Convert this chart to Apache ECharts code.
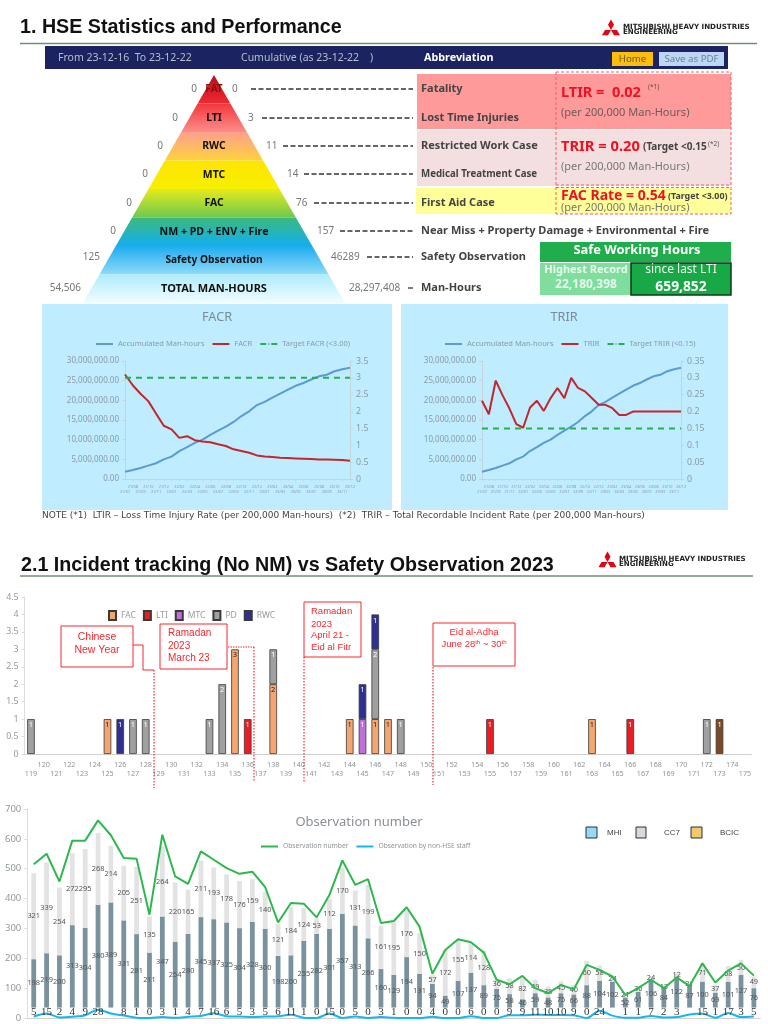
<!DOCTYPE html>
<html>
<head>
<meta charset="utf-8">
<title>HSE Statistics</title>
<script src="https://cdn.jsdelivr.net/npm/echarts@6/dist/echarts.min.js"></script>
<style>
html, body { margin: 0; padding: 0; background: #fff; }
#main { width: 768px; height: 1024px; }
</style>
</head>
<body>
<div id="main"></div>
<script>
// pyramid
var tierNames = ['FAT', 'LTI', 'RWC', 'MTC', 'FAC', 'NM + PD + ENV + Fire', 'Safety Observation', 'TOTAL MAN-HOURS'];
var tierWeek = ['0', '0', '0', '0', '0', '0', '125', '54,506'];
var tierCumulative = ['0', '3', '11', '14', '76', '157', '46289', '28,297,408'];
var tierMeaning = ['Fatality', 'Lost Time Injuries', 'Restricted Work Case', 'Medical Treatment Case', 'First Aid Case',
    'Near Miss + Property Damage + Environmental + Fire', 'Safety Observation', 'Man-Hours'];

// monthly trend
var months = ['21/07', '21/08', '21/09', '21/10', '21/11', '21/12', '22/01', '22/02', '22/03', '22/04',
    '22/05', '22/06', '22/07', '22/08', '22/09', '22/10', '22/11', '22/12', '23/01', '23/02',
    '23/03', '23/04', '23/05', '23/06', '23/07', '23/08', '23/09', '23/10', '23/11', '23/12'];
var manHours = [1860000, 2300000, 2800000, 3400000, 4000000, 5000000, 5700000, 7100000, 8100000, 9200000,
    10000000, 11200000, 12300000, 13300000, 14500000, 16000000, 17200000, 18800000, 19600000, 20700000,
    21700000, 22700000, 23700000, 24400000, 25300000, 26100000, 26500000, 27400000, 27900000, 28297408];
var facr = [3.1, 2.78, 2.53, 2.31, 1.94, 1.58, 1.47, 1.22, 1.27, 1.15,
    1.11, 1.09, 1.03, 0.98, 0.88, 0.83, 0.78, 0.7, 0.67, 0.65,
    0.63, 0.62, 0.61, 0.6, 0.59, 0.58, 0.58, 0.57, 0.56, 0.54];
var trir = [0.232, 0.192, 0.292, 0.248, 0.209, 0.163, 0.152, 0.212, 0.232, 0.202,
    0.24, 0.27, 0.24, 0.3, 0.27, 0.26, 0.24, 0.22, 0.22, 0.21,
    0.19, 0.19, 0.2, 0.2, 0.2, 0.2, 0.2, 0.2, 0.2, 0.2];
var facrTarget = months.map(function () { return 3; });
var trirTarget = months.map(function () { return 0.15; });

// weekly incidents, weeks 119..175
var weeks = [];
for (var w = 119; w <= 175; w++) weeks.push(String(w));
var incFAC = { 125: 1, 135: 3, 138: 2, 144: 1, 146: 1, 147: 1, 163: 1 };
var incLTI = { 136: 1, 155: 1, 166: 1 };
var incMTC = { 145: 1 };
var incPD = { 119: 1, 127: 1, 128: 1, 133: 1, 134: 2, 138: 1, 146: 2, 148: 1, 172: 1 };
var incRWC = { 126: 1, 145: 1, 146: 1 };
var incOther = { 173: 1 };

// observations, weeks 119..175
var mhiTops = [197, 217, 210, 311, 302, 379, 387, 327, 281, 219, 340, 256, 282, 338, 331, 320, 301, 322, 298,
    208, 210, 258, 282, 298, 349, 310, 267, 164, 144, 204, 148, 114, 75, 125, 152, 110, 98, 80,
    63, 83, 69, 83, 79, 110, 125, 122, 69, 88, 128, 100, 139, 111, 122, 85, 122, 144, 100];
var mhiLabels = [198, 219, 200, 313, 304, 380, 389, 331, 281, 211, 347, 254, 280, 345, 337, 325, 304, 328, 300,
    198, 200, 255, 282, 301, 357, 313, 266, 160, 129, 194, 131, 94, 49, 107, 137, 89, 75, 58,
    46, 59, 48, 75, 66, 88, 104, 102, 52, 61, 106, 84, 122, 87, 100, 69, 101, 127, 76];
var cc7Tops = [485, 521, 437, 552, 566, 620, 577, 510, 506, 340, 575, 454, 430, 527, 504, 481, 459, 465, 423,
    315, 371, 368, 334, 398, 502, 427, 446, 309, 323, 362, 284, 144, 228, 262, 250, 226, 130, 133,
    133, 128, 105, 122, 111, 191, 176, 141, 83, 107, 139, 111, 150, 116, 183, 111, 174, 195, 139];
var cc7Labels = [321, 339, 254, 272, 295, 268, 214, 205, 251, 135, 264, 220, 165, 211, 193, 178, 176, 159, 140,
    121, 184, 124, 53, 112, 170, 131, 199, 161, 195, 176, 150, 57, 172, 155, 114, 128, 36, 58,
    82, 49, 38, 45, 40, 60, 58, 24, 21, 36, 24, 13, 12, 21, 71, 37, 68, 50, 49];
var obsNumber = [515, 550, 457, 594, 594, 662, 612, 536, 533, 346, 614, 474, 449, 558, 530, 502, 483, 490, 438,
    320, 385, 383, 337, 413, 528, 446, 465, 318, 325, 371, 306, 148, 228, 264, 254, 219, 128, 113,
    141, 100, 83, 111, 96, 178, 161, 139, 77, 100, 128, 100, 136, 107, 183, 119, 159, 183, 142];
var obsNonHse = [5, 15, 2, 4, 9, 28, 15, 8, 1, 0, 3, 1, 4, 7, 16, 6, 5, 3, 5,
    6, 11, 1, 0, 15, 0, 5, 0, 3, 1, 0, 0, 4, 0, 0, 6, 0, 0, 9,
    9, 11, 10, 10, 9, 0, 24, 8, 1, 1, 7, 2, 3, 12, 15, 1, 17, 3, 5];
var obsNonHseLabels = obsNonHse.map(function (v, i) { return (i === 6 || i === 45 || i === 51) ? '' : String(v); });

// the bars float above a clear strip that holds the non-HSE counts
var BAR_FLOOR = 35;
var barFloor = weeks.map(function () { return BAR_FLOOR; });
var mhiVisible = mhiTops.map(function (v) { return Math.max(v - BAR_FLOOR, 0); });
var cc7Visible = cc7Tops.map(function (v, i) { return Math.max(v - mhiTops[i], 0); });

var UI_FONT = '"Noto Sans", sans-serif';
var ARIAL = '"Liberation Sans", Arial, sans-serif';

function text(x, y, str, size, color, weight, align, font) {
    return {
        type: 'text', z: 10, silent: true,
        style: {
            x: x, y: y, text: str, fontSize: size, fill: color, fontWeight: weight || 'normal',
            align: align || 'left', verticalAlign: 'middle', fontFamily: font || UI_FONT
        }
    };
}
function box(x, y, w, h, fill, stroke, z, lineWidth) {
    return {
        type: 'rect', z: z === undefined ? 1 : z, silent: true, shape: { x: x, y: y, width: w, height: h },
        style: { fill: fill || 'transparent', stroke: stroke || null, lineWidth: lineWidth || 1 }
    };
}
function line(points, color, width, dash, z) {
    return {
        type: 'polyline', z: z || 3, silent: true, shape: { points: points },
        style: { fill: null, stroke: color, lineWidth: width, lineDash: dash || null }
    };
}
function logo(cx, cy, textX) {
    var L = 6, out = [];
    [[-60, -120], [180, 120], [0, 60]].forEach(function (d) {
        var a = d[0] * Math.PI / 180, b = d[1] * Math.PI / 180;
        var ax = L * Math.cos(a), ay = L * Math.sin(a), bx = L * Math.cos(b), by = L * Math.sin(b);
        out.push({
            type: 'polygon', z: 5, silent: true,
            shape: { points: [[cx, cy], [cx + ax, cy + ay], [cx + ax + bx, cy + ay + by], [cx + bx, cy + by]] },
            style: { fill: '#e60012' }
        });
    });
    out.push(text(textX, cy - 3.3, 'MITSUBISHI HEAVY INDUSTRIES', 7.1, '#222', 'bold', 'left', '"DejaVu Sans", sans-serif'));
    out.push(text(textX, cy + 1.8, 'ENGINEERING', 7.1, '#222', 'bold', 'left', '"DejaVu Sans", sans-serif'));
    return out;
}

var graphicEls = [];
function add(list) { graphicEls = graphicEls.concat(list); }

// page titles
add([
    text(20, 28, '1. HSE Statistics and Performance', 19.7, '#111', 'bold', 'left', ARIAL),
    line([[20, 43.5], [757, 43.5]], '#6f9074', 1.5),
    text(21, 566, '2.1 Incident tracking (No NM) vs Safety Observation 2023', 19.7, '#111', 'bold', 'left', ARIAL),
    line([[20, 576], [753, 576]], '#6f9074', 1.5)
]);
add(logo(611, 30, 623));
add(logo(607.5, 562, 619));

// header bar
add([
    box(45, 46, 683, 23, '#1b2460', null, 1),
    text(58, 58, 'From 23-12-16  To 23-12-22', 10.5, '#b9bdd0'),
    text(241, 58, 'Cumulative (as 23-12-22    )', 10.5, '#b9bdd0'),
    text(424, 58, 'Abbreviation', 10.8, '#fff', 'bold'),
    box(612, 52, 41, 14, '#fbbf0b', null, 2),
    text(632.5, 59, 'Home', 9.7, '#6b5a30', 'normal', 'center'),
    box(659, 52, 65, 14, '#bcd6f6', null, 2),
    text(691.5, 59, 'Save as PDF', 9.7, '#6b7f9a', 'normal', 'center')
]);

// pyramid side rows
var rowY = [89, 118, 146, 174, 203, 231, 257, 288];
var weekRight = [197, 178, 163, 148, 132, 116, 100, 81];
var cumLeft = [232, 248, 266, 287, 296, 317, 331, 349];
var dashStart = [251, 262, 283, 304, 314, 340, 367, 408];
rowY.forEach(function (y, i) {
    add([
        text(weekRight[i], y, tierWeek[i], 10, '#777', 'normal', 'right'),
        text(cumLeft[i], y, tierCumulative[i], 10, '#777'),
        line([[dashStart[i], y], [413, y]], '#333', 1.3, [5, 2.5]),
        text(421, y, tierMeaning[i], i === 3 ? 9.7 : 11, '#444', 'bold')
    ]);
});

// rate table
add([
    box(417, 74, 314, 55, '#ff9a9a', null, 1),
    box(417, 130, 314, 56, '#f4dfe0', null, 1),
    box(416, 188, 315, 26, '#ffff99', null, 1),
    line([[556, 72], [556, 214]], '#f0606a', 1, [3, 2]),
    line([[556, 72], [731, 72], [731, 214], [556, 214]], '#f0606a', 1, [3, 2]),
    line([[556, 185], [731, 185]], '#f0606a', 1, [3, 2]),
    line([[556, 187.5], [731, 187.5]], '#f0606a', 1, [3, 2]),
    text(561, 93, 'LTIR =  0.02', 14.5, '#ee1122', 'bold'),
    text(648, 87, '(*1)', 6.5, '#555'),
    text(561, 113, '(per 200,000 Man-Hours)', 11, '#6e5a5a'),
    text(561, 147, 'TRIR = 0.20', 14.7, '#ee1122', 'bold'),
    text(643, 147.5, '(Target <0.15', 10, '#444', 'bold'),
    text(708, 144, '(*2)', 6.5, '#555'),
    text(561, 167, '(per 200,000 Man-Hours)', 11, '#777'),
    text(561, 196, 'FAC Rate = 0.54', 14, '#ee1122', 'bold'),
    text(668, 196, '(Target <3.00)', 8.9, '#444', 'bold'),
    text(561, 208, '(per 200,000 Man-Hours)', 11, '#777')
]);

// safe working hours
add([
    box(540, 242, 191, 20, '#1fae4b', null, 1),
    text(637, 250, 'Safe Working Hours', 12.9, '#fff', 'bold', 'center'),
    box(540, 263, 91, 32, '#7fdd9d', null, 1),
    text(586, 270, 'Highest Record', 11, '#e9fbee', 'bold', 'center'),
    text(586, 285, '22,180,398', 12, '#e9fbee', 'bold', 'center'),
    box(631, 263, 100, 32, '#19a846', '#0b3a1a', 1, 1.5),
    text(681, 270, 'since last LTI', 12, '#e9fbee', 'normal', 'center'),
    text(681, 287, '659,852', 13.8, '#fff', 'bold', 'center')
]);

// trend panels
add([
    box(42, 304, 350, 206, '#c0ecff', null, 0),
    box(401, 304, 327, 206, '#c0ecff', null, 0),
    text(217, 317, 'FACR', 12.7, '#7b8a94', 'normal', 'center'),
    text(564, 317, 'TRIR', 12.7, '#7b8a94', 'normal', 'center'),
    text(42, 516, 'NOTE (*1)  LTIR \u2013 Loss Time Injury Rate (per 200,000 Man-hours)  (*2)  TRIR \u2013 Total Recordable Incident Rate (per 200,000 Man-hours)', 9, '#444', 'normal', 'left', '"DejaVu Sans", sans-serif')
]);

// holiday call-outs on the incident chart
var RED = '#f5282e';
add([
    box(61, 626, 72, 41, '#fff', RED, 4, 1),
    text(97, 637, 'Chinese', 10.5, RED, 'normal', 'center', ARIAL),
    text(97, 650, 'New Year', 10.5, RED, 'normal', 'center', ARIAL),
    line([[133, 645], [143, 645], [143, 670], [154, 670]], RED, 1, null, 4),
    line([[154, 670], [154, 788]], RED, 1.2, [1.5, 1.5], 4),
    box(160, 624, 67, 45, '#fff', RED, 4, 1),
    text(168, 633, 'Ramadan', 10, RED, 'normal', 'left', ARIAL),
    text(168, 646, '2023', 10, RED, 'normal', 'left', ARIAL),
    text(168, 658, 'March 23', 10, RED, 'normal', 'left', ARIAL),
    line([[228, 647], [254, 647]], RED, 1.2, [1.5, 1], 4),
    line([[254, 647], [254, 782]], RED, 1.2, [1.5, 1.5], 4),
    box(304, 602, 57, 55, '#fff', RED, 4, 1),
    text(311, 611, 'Ramadan', 9.5, RED, 'normal', 'left', ARIAL),
    text(311, 624, '2023', 9.5, RED, 'normal', 'left', ARIAL),
    text(311, 635, 'April 21 -', 9.5, RED, 'normal', 'left', ARIAL),
    text(311, 647, 'Eid al Fitr', 9.5, RED, 'normal', 'left', ARIAL),
    line([[304, 657], [304, 782]], RED, 1.2, [1.5, 1.5], 4),
    box(433, 623, 82, 43, '#fff', RED, 4, 1),
    text(474, 632, 'Eid al-Adha', 9.5, RED, 'normal', 'center', ARIAL),
    {
        type: 'text', z: 10, silent: true,
        style: {
            x: 474, y: 644, align: 'center', verticalAlign: 'middle', fontFamily: ARIAL,
            text: '{n|June 28}{s|th}{n| ~ 30}{s|th}',
            rich: { n: { fontSize: 9.5, fill: RED }, s: { fontSize: 6, fill: RED, verticalAlign: 'top', lineHeight: 9 } }
        }
    },
    line([[433, 667], [433, 785]], RED, 1.2, [1.5, 1.5], 4)
]);

// observation chart furniture
add([
    text(359, 822, 'Observation number', 13, '#8a9096', 'normal', 'center'),
    box(586, 827, 11, 11, '#9ad8f5', '#223344', 5),
    text(607, 832.5, 'MHI', 8, '#444', 'normal', 'left', ARIAL),
    box(636, 827, 10, 11, '#d9d9d9', '#223344', 5),
    text(664, 832.5, 'CC7', 8, '#444', 'normal', 'left', ARIAL),
    box(691, 827, 11, 11, '#f2c868', '#223344', 5),
    text(720, 832.5, 'BCIC', 8, '#444', 'normal', 'left', ARIAL)
]);

var chart = echarts.init(document.getElementById('main'), null, { renderer: 'canvas', width: 768, height: 1024 });

function grad(top, bottom) {
    return new echarts.graphic.LinearGradient(0, 0, 0, 1, [{ offset: 0, color: top }, { offset: 1, color: bottom }]);
}
var tierGradients = [
    grad('#b80f1c', '#f02a30'), grad('#f4363c', '#fb8e8a'), grad('#fc9f8e', '#fed23e'), grad('#ffe400', '#f6f000'),
    grad('#e6ea1c', '#6ec852'), grad('#3cb97c', '#12aff0'), grad('#1eabf0', '#8edbf8'), grad('#aeecfc', '#f2fcff')
];
var tierLabelSizes = [10, 10.4, 10.4, 10.4, 10.4, 10.6, 10.2, 11];

var tierData = tierNames.map(function (name, i) {
    return {
        name: name, value: i,
        itemStyle: { color: tierGradients[i] },
        label: { color: i === 0 ? '#8a1010' : '#111', fontSize: tierLabelSizes[i] }
    };
});
// the funnel closes on its last item, so the base of the pyramid needs a hidden one below it
tierData.push({
    name: ' ', value: 8,
    itemStyle: { color: 'rgba(0,0,0,0)' },
    label: { show: false }, labelLine: { show: false }
});

function trendAxisX(gridIndex, data) {
    return {
        type: 'category', gridIndex: gridIndex, data: data, boundaryGap: false,
        axisLine: { lineStyle: { color: '#c4d4da' } },
        axisTick: { show: true, length: 2, lineStyle: { color: '#c4d4da' } },
        axisLabel: {
            interval: 0, fontSize: 3.8, color: '#8a9aa4', margin: 5, lineHeight: 5, hideOverlap: false,
            fontFamily: UI_FONT,
            formatter: function (v, i) { return i % 2 === 0 ? '\n' + v : v; }
        }
    };
}
function moneyFormat(v) {
    return v.toLocaleString('en-US', { minimumFractionDigits: 2, maximumFractionDigits: 2 });
}
function trendAxisYLeft(gridIndex) {
    return {
        type: 'value', gridIndex: gridIndex, min: 0, max: 30000000, interval: 5000000, splitLine: { show: false },
        axisLine: { show: true, lineStyle: { color: '#c4d4da' } },
        axisTick: { show: true, length: 3, lineStyle: { color: '#c4d4da' } },
        axisLabel: { fontSize: 8, color: '#8a9aa4', margin: 6, fontFamily: UI_FONT, formatter: moneyFormat }
    };
}
function trendAxisYRight(gridIndex, max, interval) {
    return {
        type: 'value', gridIndex: gridIndex, position: 'right', min: 0, max: max, interval: interval,
        splitLine: { show: false },
        axisLine: { show: true, lineStyle: { color: '#c4d4da' } },
        axisTick: { show: true, length: 3, lineStyle: { color: '#c4d4da' } },
        axisLabel: { fontSize: 8.8, color: '#8a9aa4', margin: 6, fontFamily: UI_FONT }
    };
}
function trendLine(name, data, x, y, color, dashed) {
    return {
        name: name, type: 'line', data: data, xAxisIndex: x, yAxisIndex: y, symbol: 'none', z: 3,
        itemStyle: { color: color },
        lineStyle: { color: color, width: 2, type: dashed ? [6, 5] : 'solid' }
    };
}
function trendLegend(left, names) {
    return {
        left: left, top: 335, data: names, itemWidth: 17, itemHeight: 2, itemGap: 7,
        selectedMode: false, lineStyle: { width: 2 },
        textStyle: { fontSize: 7.5, color: '#8a9aa4', fontFamily: UI_FONT }
    };
}

function weekValues(map) {
    return weeks.map(function (w) { return map[w] === undefined ? null : map[w]; });
}
function incidentSeries(name, map, color, labelColor) {
    return {
        name: name, type: 'bar', stack: 'inc', xAxisIndex: 2, yAxisIndex: 4, barWidth: 7.6, data: weekValues(map),
        itemStyle: { color: color, borderColor: '#3a3a3a', borderWidth: 0.8 },
        label: { show: true, position: 'insideTop', distance: 2, fontSize: 7.5, color: labelColor, fontFamily: UI_FONT }
    };
}

var option = {
    animation: false,
    backgroundColor: '#fff',
    tooltip: { show: false },
    graphic: { elements: graphicEls },
    legend: [
        trendLegend(90, ['Accumulated Man-hours', 'FACR', 'Target FACR (<3.00)']),
        trendLegend(439, ['Accumulated Man-hours', 'TRIR', 'Target TRIR (<0.15)']),
        {
            left: 103, top: 605, data: ['FAC', 'LTI', 'MTC', 'PD', 'RWC'], icon: 'rect',
            itemWidth: 7, itemHeight: 9, itemGap: 7, selectedMode: false,
            textStyle: { fontSize: 8.5, color: '#9a9a9a', fontFamily: UI_FONT }
        },
        {
            left: 255, top: 838, data: ['Observation number', 'Observation by non-HSE staff'], itemWidth: 17, itemHeight: 2, itemGap: 7,
            selectedMode: false, lineStyle: { width: 2 },
            textStyle: { fontSize: 6.7, color: '#8e9498', fontFamily: UI_FONT }
        }
    ],
    grid: [
        { left: 125, top: 361, width: 225, height: 118 },
        { left: 482, top: 361, width: 199, height: 118 },
        { left: 24.6, top: 597, width: 726.8, height: 157 },
        { left: 27.3, top: 809, width: 733, height: 209 }
    ],
    xAxis: [
        trendAxisX(0, months),
        trendAxisX(1, months),
        {
            type: 'category', gridIndex: 2, data: weeks,
            axisLine: { lineStyle: { color: '#d0d0d0' } },
            axisTick: { length: 3, lineStyle: { color: '#d0d0d0' } },
            axisLabel: {
                interval: 0, fontSize: 7.2, color: '#8e9498', margin: 6, lineHeight: 9, hideOverlap: false, fontFamily: UI_FONT,
                formatter: function (v, i) { return i % 2 === 0 ? '\n' + v : v; }
            }
        },
        {
            type: 'category', gridIndex: 3, data: weeks,
            axisLine: { lineStyle: { color: '#d0d0d0' } },
            axisTick: { length: 3, lineStyle: { color: '#d0d0d0' } },
            axisLabel: { show: false }
        },
        {
            type: 'category', gridIndex: 3, position: 'bottom', data: obsNonHseLabels, z: 8,
            axisLine: { show: false }, axisTick: { show: false },
            axisLabel: {
                inside: true, interval: 0, margin: 0, fontSize: 11, color: '#333', hideOverlap: false,
                fontFamily: '"Liberation Serif", serif'
            }
        }
    ],
    yAxis: [
        trendAxisYLeft(0),
        trendAxisYRight(0, 3.5, 0.5),
        trendAxisYLeft(1),
        trendAxisYRight(1, 0.35, 0.05),
        {
            type: 'value', gridIndex: 2, min: 0, max: 4.5, interval: 0.5, splitLine: { show: false },
            axisLine: { show: true, lineStyle: { color: '#dcdcdc' } },
            axisTick: { show: true, length: 3, lineStyle: { color: '#dcdcdc' } },
            axisLabel: { fontSize: 8.8, color: '#999', margin: 6, fontFamily: UI_FONT }
        },
        {
            type: 'value', gridIndex: 3, min: 0, max: 700, interval: 100, splitLine: { show: false },
            axisLine: { show: true, lineStyle: { color: '#dcdcdc' } },
            axisTick: { show: true, length: 3, lineStyle: { color: '#dcdcdc' } },
            axisLabel: { fontSize: 9.5, color: '#8e9a9e', margin: 6, fontFamily: UI_FONT }
        }
    ],
    series: [
        {
            name: 'pyramid', type: 'funnel', left: 83, top: 75, width: 262, height: 256.5,
            min: 0, max: 8, minSize: 0, maxSize: '100%', sort: 'none', gap: 0, z: 2,
            label: { show: true, position: 'inside', fontWeight: 'bold', fontFamily: UI_FONT },
            labelLine: { show: false },
            itemStyle: { borderWidth: 0 },
            emphasis: { disabled: true },
            data: tierData
        },
        trendLine('Accumulated Man-hours', manHours, 0, 0, '#5b9bd5'),
        trendLine('FACR', facr, 0, 1, '#c1272d'),
        trendLine('Target FACR (<3.00)', facrTarget, 0, 1, '#22b14c', true),
        trendLine('Accumulated Man-hours', manHours, 1, 2, '#5b9bd5'),
        trendLine('TRIR', trir, 1, 3, '#c1272d'),
        trendLine('Target TRIR (<0.15)', trirTarget, 1, 3, '#22b14c', true),
        incidentSeries('FAC', incFAC, '#f4a670', '#222'),
        incidentSeries('LTI', incLTI, '#ed1c24', '#fff'),
        incidentSeries('MTC', incMTC, '#c06fd8', '#fff'),
        incidentSeries('PD', incPD, '#a0a0a0', '#fff'),
        incidentSeries('RWC', incRWC, '#2e3192', '#fff'),
        incidentSeries('Other', incOther, '#7b4a25', '#fff'),
        {
            name: 'floor', type: 'bar', stack: 'obs', xAxisIndex: 3, yAxisIndex: 5, barWidth: 4.8, data: barFloor, z: 2,
            itemStyle: { color: 'rgba(0,0,0,0)' }
        },
        {
            name: 'MHI', type: 'bar', stack: 'obs', xAxisIndex: 3, yAxisIndex: 5, data: mhiVisible, z: 2,
            itemStyle: { color: '#7a929e' },
            label: {
                show: true, position: 'inside', fontSize: 7.4, color: '#555', fontFamily: UI_FONT,
                formatter: function (p) { return mhiLabels[p.dataIndex]; }
            }
        },
        {
            name: 'CC7', type: 'bar', stack: 'obs', xAxisIndex: 3, yAxisIndex: 5, data: cc7Visible, z: 2,
            itemStyle: { color: '#e3e3e3' },
            label: {
                show: true, position: 'inside', fontSize: 7.4, color: '#555', fontFamily: UI_FONT,
                formatter: function (p) { return cc7Labels[p.dataIndex]; }
            }
        },
        {
            name: 'Observation number', type: 'line', xAxisIndex: 3, yAxisIndex: 5, data: obsNumber, symbol: 'none', z: 5,
            itemStyle: { color: '#2db84d' }, lineStyle: { color: '#2db84d', width: 2 }
        },
        {
            name: 'Observation by non-HSE staff', type: 'line', xAxisIndex: 3, yAxisIndex: 5, data: obsNonHse, symbol: 'none', z: 5,
            smooth: 0.3,
            itemStyle: { color: '#12b8f0' }, lineStyle: { color: '#12b8f0', width: 2 }
        }
    ]
};
chart.setOption(option);
</script>
</body>
</html>
